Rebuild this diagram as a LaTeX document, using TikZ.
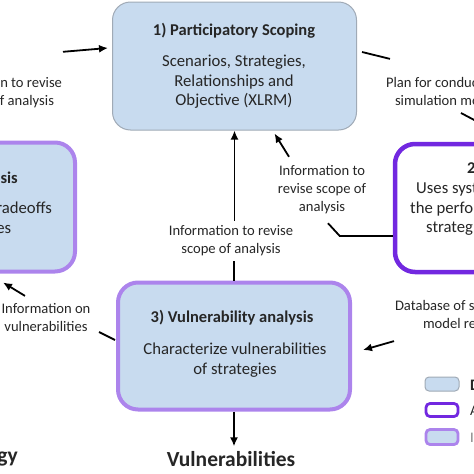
\documentclass[tikz,border=0pt]{standalone}
\usepackage{fontspec}
\setmainfont{Carlito}
\usetikzlibrary{arrows.meta}
\definecolor{fundo}{RGB}{200,219,239}
\definecolor{cinza}{RGB}{160,170,182}
\definecolor{roxoesc}{RGB}{114,40,224}
\definecolor{roxoclaro}{RGB}{172,132,236}
\definecolor{texto}{RGB}{38,38,38}
\begin{document}
\begin{tikzpicture}[x=1pt, y=-1pt,
  every node/.style={inner sep=0pt, text=texto, font=\fontsize{14.6}{18}\selectfont},
  seta/.style={-{Latex[length=9pt,width=8pt]}, line width=1.8pt},
  linha/.style={line width=1.8pt}
]
\tikzset{
  azul/.style={draw=cinza, line width=1pt, fill=fundo, rounded corners=18pt},
  roxo/.style={draw=roxoesc, line width=4.5pt, fill=white, rounded corners=20pt},
  lilas/.style={draw=roxoclaro, line width=4pt, fill=fundo, rounded corners=20pt},
  titulo/.style={font=\fontsize{16.5}{19}\selectfont\bfseries},
  corpo/.style={font=\fontsize{16.7}{19.5}\selectfont, align=center},
  rotulo/.style={align=center, outer sep=5pt}
}
\useasboundingbox (0,0) rectangle (474,474);
\clip (0,0) rectangle (474,474);

% caixas
\node[azul, minimum width=244pt, minimum height=128pt] (s1) at (234.5,66) {};
\node[roxo, minimum width=126pt, minimum height=128pt] (s2) at (458,208) {};
\node[lilas, minimum width=134pt, minimum height=129pt] (s4) at (8,207) {};
\node[lilas, minimum width=232pt, minimum height=127pt] (s3) at (234,346) {};

% textos das caixas
\node[titulo] (t1) at (234,31) {1) Participatory Scoping};
\node[corpo] (c1) at (234,82) {Scenarios, Strategies,\\Relationships and\\Objective (XLRM)};
\node[titulo, anchor=west] (t2) at (467,169) {2)};
\node[corpo, anchor=north west, align=left] (c2) at (410,183) {\hspace*{6pt}Uses syst\\the perfor\\\hspace*{16pt}strateg};
\node[titulo, anchor=east] (t4) at (18,178) {sis};
\node[corpo, anchor=north east, align=left] (c4) at (52,202) {radeoffs\\es};
\node[titulo] (t3) at (232,318) {3) Vulnerability analysis};
\node[corpo] (c3) at (235,360) {Characterize vulnerabilities\\of strategies};

% rotulos
\node[rotulo, anchor=east, align=right] (l1) at (67,93) {on to revise\\f analysis\hspace*{8pt}};
\node[rotulo, anchor=west, align=left] (l2) at (381,91) {Plan for conduct\\\hspace*{9pt}simulation mo};
\node[rotulo] (l3) at (322,190) {Information to\\revise scope of\\analysis};
\node[rotulo] (lv) at (231,241) {Information to revise\\scope of analysis};
\node[rotulo] (l4) at (46,318) {Information on\\vulnerabilities};
\node[rotulo, anchor=west, align=left] (l5) at (390,314) {Database of si\\\hspace*{28pt}model res};
\node[font=\fontsize{21.5}{24}\selectfont\bfseries, outer sep=5pt] (vul) at (231,459) {Vulnerabilities};
\node[font=\fontsize{21.5}{24}\selectfont\bfseries, anchor=east] (gy) at (18,459) {gy};

% conectores
\draw[seta] ([shift={(-4,-21)}]l1.north east) -- ([shift={(-4,-18)}]s1.west);
\draw[linha] ([shift={(5,-14)}]s1.east) -- ([shift={(9,-13)}]l2.north west);
\coordinate (p2) at (495,131);
\draw[seta] (461,113) -- (p2);
\draw[linha] ([shift={(0,28)}]s2.west) -- ++(-53,0) -- ([shift={(6,4)}]l3.south);
\draw[seta] ([shift={(-33,-4)}]l3.north) -- ([shift={(40,3)}]s1.south);
\draw[linha] (s3.north) -- (s3.north |- lv.south);
\draw[seta] (s1.south |- lv.north) -- (s1.south);
\draw[linha] ([shift={(-1,-6)}]s3.west) -- ++(-16,-8);
\draw[seta] ([shift={(-21,-3)}]l4.north) -- ([shift={(-5,9)}]s4.south);
\draw[seta] ([shift={(4,8)}]l5.south west) -- ([shift={(11,4)}]s3.east);
\draw[seta] (s3.south) -- (s3.south |- vul.north);

% legenda
\node[azul, rounded corners=4pt, minimum width=34pt, minimum height=14pt] (g1) at (442,384) {};
\node[roxo, rounded corners=4pt, line width=2.8pt, minimum width=32pt, minimum height=13pt] (g2) at (442,410) {};
\node[lilas, rounded corners=4pt, line width=2.8pt, minimum width=32pt, minimum height=15pt] (g3) at (442,437) {};
\node[anchor=west, font=\fontsize{16}{18}\selectfont\bfseries] (d1) at (470,385) {D};
\node[anchor=west] (d2) at (470,411) {A};
\node[anchor=west, text=gray] (d3) at (470,438) {I};
\end{tikzpicture}
\end{document}
